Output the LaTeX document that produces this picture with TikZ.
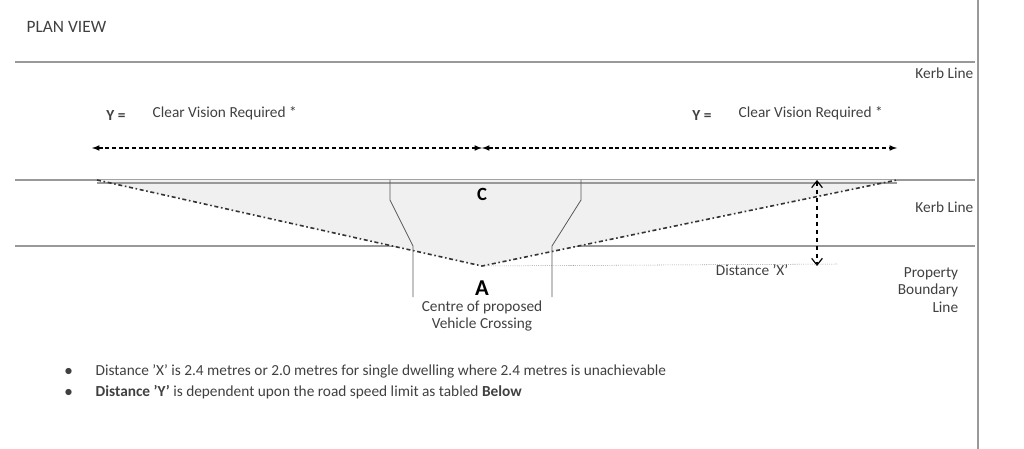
\documentclass[tikz,border=0pt]{standalone}
\usepackage{fontspec}
\setmainfont{Carlito}
\usetikzlibrary{arrows.meta,positioning}
\begin{document}
\begin{tikzpicture}[
    x=0.75pt, y=-0.75pt,
    >=latex,
    kerb_line/.style={draw=gray!80, line width=0.8pt},
    vision_arrow/.style={<->, densely dashed, line width=0.9pt},
    label_text/.style={font=\fontsize{11.5}{13}\selectfont, text=black!75},
    crossing_line/.style={draw=gray!70!black, line width=0.6pt}
]
\useasboundingbox (0,0) rectangle (1024,449);

% --- LINES ---
\coordinate (k1w) at (15,62);   \coordinate (k1e) at (975,62);
\coordinate (k2w) at (15,180);  \coordinate (k2e) at (975,180);
\coordinate (pbw) at (15,246);  \coordinate (pbe) at (975,246);
\draw[kerb_line] (k1w) -- (k1e);
\draw[kerb_line] (k2w) -- (k2e);
\draw[kerb_line] (pbw) -- (pbe);
\draw[gray!80, line width=1pt] (978,0) -- (978,449);

% --- VISION SPLAY ---
\coordinate (splay_w) at (97,180);
\coordinate (splay_a) at (482,266);
\coordinate (splay_e) at (897,180);
\fill[gray!12] (splay_w) -- (splay_a) -- (splay_e) -- cycle;
\draw[kerb_line] (97,183) -- (897,183);
\draw[line width=1.2pt, dash dot, black!80] (splay_w) -- (splay_a) -- (splay_e);

% --- VEHICLE CROSSING ---
\draw[crossing_line] (390,180) -- (390,200) -- (413,246) -- (413,297);
\draw[crossing_line] (581,180) -- (581,200) -- (552,246) -- (552,297);

% --- DIMENSIONS ---
\coordinate (yl) at (92,148);
\coordinate (ym) at (482,148);
\coordinate (yr) at (897,148);
\draw[vision_arrow] (yl) -- (ym);
\draw[vision_arrow] (ym) -- (yr);
\coordinate (xt) at (817,180);
\coordinate (xb) at (817,266);
\draw[{Straight Barb[length=5pt,width=8pt]}-{Straight Barb[length=5pt,width=8pt]}, dashed, line width=0.9pt] (xt) -- (xb);
\draw[densely dotted, gray!80!black] (splay_a) -- (838,264);

% --- LABELS ---
\node[anchor=west, label_text, font=\fontsize{13}{15}\selectfont] (plan) at (22,27) {PLAN VIEW};
\node[anchor=east, label_text] (kl1) at (978,73) {Kerb Line};
\node[anchor=east, label_text] (kl2) at (978,207) {Kerb Line};
\node[label_text, font=\fontsize{11.5}{13}\selectfont\bfseries] (yeq1) at (116,116) {Y =};
\node[anchor=west, label_text] (cv1) at (148,113) {Clear Vision Required *};
\node[label_text, font=\fontsize{11.5}{13}\selectfont\bfseries] (yeq2) at (702,116) {Y =};
\node[anchor=west, label_text] (cv2) at (734,113) {Clear Vision Required *};
\node[font=\fontsize{14}{16}\selectfont\bfseries] (c) at (482,194) {C};
\node[font=\fontsize{17}{19}\selectfont\bfseries] (a) at (482,288) {A};
\node[below=-3pt of a, label_text, align=center] (centre) {Centre of proposed\\Vehicle Crossing};
\node[label_text] (distx) at (752,270) {Distance 'X'};
\node[label_text, align=right] (pbl) at (928,290) {Property\\Boundary\\Line};
\node[anchor=west, label_text] (b1) at (60,371) {$\bullet$\hspace{1.5em}Distance 'X' is 2.4 metres or 2.0 metres for single dwelling where 2.4 metres is unachievable};
\node[anchor=west, label_text] (b2) at (60,392) {$\bullet$\hspace{1.5em}\textbf{Distance 'Y'} is dependent upon the road speed limit as tabled \textbf{Below}};
\end{tikzpicture}
\end{document}
